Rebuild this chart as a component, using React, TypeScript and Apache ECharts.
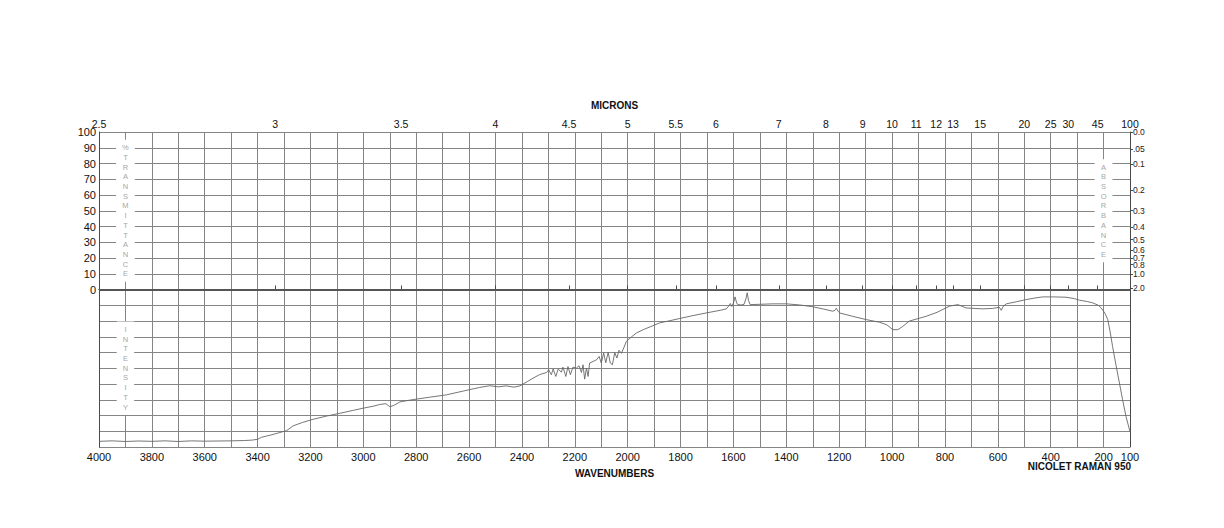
import React, { useEffect, useRef } from "react";
import * as echarts from "echarts";

const wavenumbers = [
  4000, 3950, 3900, 3850, 3800, 3750, 3700, 3650, 3600, 3550, 3500, 3450, 3420, 3400, 3385, 3350, 3320, 3290,
  3266, 3230, 3190, 3140, 3089, 3040, 3002, 2960, 2938, 2915, 2900, 2885, 2862, 2830, 2799, 2750, 2686, 2620,
  2560, 2522, 2490, 2460, 2430, 2408, 2380, 2358, 2333, 2307, 2299, 2289, 2282, 2272, 2263, 2251, 2245, 2234,
  2226, 2217, 2207, 2194, 2184, 2175, 2169, 2163, 2156, 2150, 2144, 2131, 2118, 2108, 2100, 2091, 2083, 2074,
  2066, 2058, 2049, 2041, 2033, 2024, 2015, 2005, 1986, 1967, 1940, 1905, 1879, 1840, 1803, 1754, 1700, 1650,
  1627, 1618, 1612, 1606, 1600, 1594, 1588, 1584, 1570, 1560, 1553, 1548, 1543, 1537, 1500, 1450, 1400, 1350,
  1299, 1260, 1224, 1216, 1211, 1204, 1198, 1150, 1098, 1047, 1020, 997, 978, 960, 934, 900, 871, 830, 783,
  751, 720, 690, 657, 620, 594, 587, 580, 568, 530, 493, 460, 430, 390, 342, 310, 291, 260, 241, 220, 209,
  195, 184, 175, 166, 153, 140, 128, 115, 100,
];

const intensity = [
  3.6, 3.9, 3.5, 3.8, 3.6, 3.9, 3.5, 3.9, 3.7, 3.8, 3.9, 4.1, 4.4, 4.9, 6.2, 7.6, 9.0, 10.4,
  13.4, 15.6, 17.6, 19.6, 21.4, 23.2, 24.6, 26.0, 27.0, 27.5, 25.6, 26.4, 28.6, 29.6, 30.4, 31.6, 33.1, 35.6,
  37.8, 38.9, 38.2, 38.8, 38.0, 38.8, 41.5, 43.7, 46.0, 47.3, 49.0, 45.9, 49.5, 44.8, 49.5, 47.5, 50.7, 44.8,
  51.1, 45.9, 50.7, 50.1, 51.6, 47.3, 52.2, 43.1, 50.1, 44.8, 53.3, 54.3, 55.4, 57.5, 53.3, 59.7, 53.5, 60.1,
  53.3, 52.2, 59.9, 56.5, 61.4, 59.5, 62.9, 67.1, 69.9, 72.4, 74.6, 77.0, 78.8, 80.2, 81.6, 83.4, 85.2, 86.8,
  87.7, 89.5, 91.1, 89.2, 91.5, 95.3, 91.5, 90.4, 90.2, 90.6, 94.0, 97.9, 93.0, 90.4, 90.6, 90.9, 90.9, 90.2,
  89.0, 87.6, 86.2, 86.8, 88.1, 86.2, 85.1, 83.0, 80.9, 79.2, 77.6, 74.5, 74.5, 76.5, 80.0, 81.6, 83.0, 85.5, 89.4,
  90.4, 88.3, 88.0, 87.7, 88.0, 88.7, 86.8, 89.2, 90.9, 92.2, 93.6, 94.6, 95.3, 95.3, 95.1, 94.2, 93.2, 92.3, 91.5, 90.0, 88.3,
  85.0, 80.9, 73.0, 63.9, 52.0, 40.6, 30.0, 19.3, 9.7,
];

const wavenumberLabels = [4000, 3800, 3600, 3400, 3200, 3000, 2800, 2600, 2400, 2200, 2000, 1800, 1600, 1400, 1200, 1000, 800, 600, 400, 200, 100];
const micronLabels = [2.5, 3, 3.5, 4, 4.5, 5, 5.5, 6, 7, 8, 9, 10, 11, 12, 13, 15, 20, 25, 30, 45, 100];
const absorbanceValues = [0, 0.05, 0.1, 0.2, 0.3, 0.4, 0.5, 0.6, 0.7, 0.8, 1.0, 2.0];
const absorbanceLabels = ["0.0", ".05", "0.1", "0.2", "0.3", "0.4", "0.5", "0.6", "0.7", "0.8", "1.0", "2.0"];

const FONT = "Liberation Sans, Arial, Helvetica, sans-serif";
const AXIS_DARK = "#4a4a4a";
const GRID_GRAY = "#858585";

const micronWn = micronLabels.map((m) => 10000 / m);
const absT = absorbanceValues.map((a) => 100 * Math.pow(10, -a));

export default function App() {
  const ref = useRef<HTMLDivElement>(null);

  useEffect(() => {
    if (!ref.current) return;
    const chart = echarts.init(ref.current, undefined, { renderer: "svg" });
    const option: any = {
      animation: false,
      backgroundColor: "#fff",
      textStyle: { fontFamily: FONT },
      grid: { left: 99, right: 94, top: 132, bottom: 81, containLabel: false },
      xAxis: [
        {
          type: "value",
          position: "bottom",
          min: 100,
          max: 4000,
          interval: 100,
          inverse: true,
          name: "WAVENUMBERS",
          nameLocation: "middle",
          nameGap: 21,
          nameTextStyle: { fontWeight: "bold", fontSize: 10, color: "#111", fontFamily: FONT },
          axisLine: { show: true, lineStyle: { color: AXIS_DARK, width: 1 } },
          axisTick: { show: false },
          splitLine: { show: true, lineStyle: { color: GRID_GRAY, width: 1 } },
          axisLabel: {
            customValues: wavenumberLabels,
            fontSize: 11,
            color: "#111",
            margin: 4,
            fontFamily: FONT,
            formatter: (v: number) => String(Math.round(v)),
          },
        },
        {
          type: "value",
          position: "top",
          min: 100,
          max: 4000,
          inverse: true,
          name: "MICRONS",
          nameLocation: "middle",
          nameGap: 22,
          nameTextStyle: { fontWeight: "bold", fontSize: 10, color: "#111", fontFamily: FONT },
          axisLine: { show: true, lineStyle: { color: AXIS_DARK, width: 1 } },
          axisTick: { show: true, customValues: micronWn, length: 4, lineStyle: { color: AXIS_DARK } },
          splitLine: { show: false },
          axisLabel: {
            customValues: micronWn,
            fontSize: 10.5,
            color: "#111",
            margin: 3,
            fontFamily: FONT,
            formatter: (v: number) => {
              const i = micronWn.findIndex((w) => Math.abs(w - v) < 0.01);
              return i >= 0 ? String(micronLabels[i]) : "";
            },
          },
        },
      ],
      yAxis: [
        {
          type: "value",
          position: "left",
          min: -100,
          max: 100,
          interval: 10,
          axisLine: { show: true, lineStyle: { color: AXIS_DARK, width: 1 } },
          axisTick: { show: false },
          splitLine: { show: true, lineStyle: { color: GRID_GRAY, width: 1 } },
          axisLabel: {
            fontSize: 11,
            color: "#111",
            margin: 3,
            fontFamily: FONT,
            formatter: (v: number) => (v >= 0 ? String(v) : ""),
          },
        },
        {
          type: "value",
          position: "right",
          min: -100,
          max: 100,
          axisLine: { show: true, lineStyle: { color: AXIS_DARK, width: 1 } },
          axisTick: { show: true, customValues: absT, length: 3, lineStyle: { color: AXIS_DARK } },
          splitLine: { show: false },
          axisLabel: {
            customValues: absT,
            fontSize: 8.5,
            color: "#222",
            margin: 3,
            fontFamily: FONT,
            formatter: (v: number) => {
              const i = absT.findIndex((t) => Math.abs(t - v) < 0.001);
              return i >= 0 ? absorbanceLabels[i] : "";
            },
          },
        },
        {
          type: "value",
          show: false,
          min: 0,
          max: 200,
        },
      ],
      series: [
        {
          type: "line",
          xAxisIndex: 0,
          yAxisIndex: 2,
          data: wavenumbers.map((w, i) => [w, intensity[i]]),
          showSymbol: false,
          symbol: "none",
          lineStyle: { color: "#666", width: 0.9 },
          z: 5,
          markLine: {
            silent: true,
            symbol: "none",
            label: { show: false },
            lineStyle: { color: "#555", width: 2, type: "solid" },
            data: [{ yAxis: 100 }],
          },
        },
      ],
    };
    chart.setOption(option);

    const pT = chart.convertToPixel({ xAxisIndex: 0, yAxisIndex: 0 }, [3900, 50]) as number[];
    const pI = chart.convertToPixel({ xAxisIndex: 0, yAxisIndex: 0 }, [3900, -50]) as number[];
    const pA = chart.convertToPixel({ xAxisIndex: 0, yAxisIndex: 0 }, [200, 50]) as number[];
    const vText = (s: string, p: number[]) => ({
      type: "text",
      x: p[0],
      y: p[1],
      z: 10,
      style: {
        text: s.split("").join("\n"),
        align: "center",
        verticalAlign: "middle",
        fontSize: 7.5,
        lineHeight: 9.7,
        fill: "#a6a6a6",
        fontFamily: FONT,
        backgroundColor: "#fff",
        padding: [3, 6],
      },
    });
    chart.setOption({
      graphic: [
        vText("%TRANSMITTANCE", pT),
        vText("INTENSITY", pI),
        vText("ABSORBANCE", pA),
        {
          type: "text",
          right: 93,
          top: 461,
          style: {
            text: "NICOLET RAMAN 950",
            fontSize: 10,
            fontWeight: "bold",
            fill: "#111",
            fontFamily: FONT,
          },
        },
      ],
    });

    return () => chart.dispose();
  }, []);

  return (
    <div
      ref={ref}
      style={{ position: "fixed", left: 0, top: 0, width: 1224, height: 528, background: "#fff" }}
    />
  );
}
